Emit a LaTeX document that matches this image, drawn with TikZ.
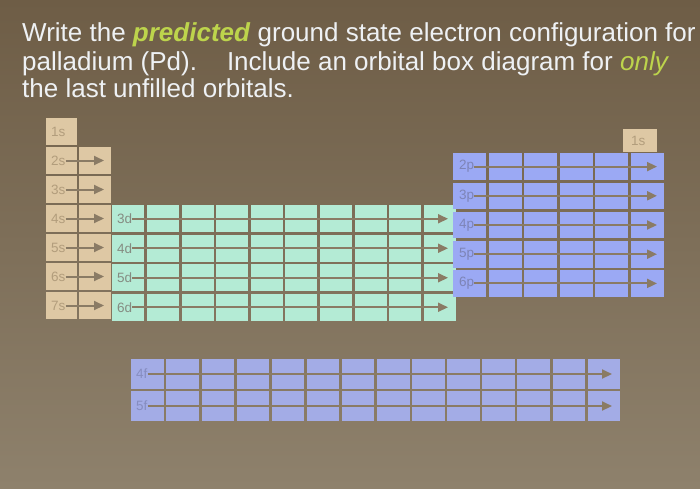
\documentclass[tikz,border=0pt]{standalone}
\usepackage{fontspec}
\setmainfont{Liberation Sans}
\usetikzlibrary{arrows.meta}
\definecolor{bgtop}{HTML}{6E5D46}
\definecolor{bgbot}{HTML}{8E816C}
\definecolor{sblk}{HTML}{DEC8A4}
\definecolor{dblk}{HTML}{B4EBD5}
\definecolor{pblk}{HTML}{9BA9F4}
\definecolor{fblk}{HTML}{A3ACE6}
\definecolor{gline}{HTML}{8A7B65}
\definecolor{slbl}{HTML}{B29D7C}
\definecolor{dlbl}{HTML}{858C82}
\definecolor{plbl}{HTML}{7D84B6}
\definecolor{flbl}{HTML}{868DC0}
\definecolor{txt}{HTML}{EEF1F4}
\definecolor{hl}{HTML}{BDD44C}
\begin{document}
\begin{tikzpicture}[x=1pt,y=-1pt,
  titletext/.style={anchor=base west, inner sep=0pt, text=txt, font=\fontsize{26}{28}\selectfont},
  lbl/.style={anchor=west, inner sep=0pt, font=\fontsize{13.5}{14}\selectfont},
  arr/.style={draw=gline, line width=2pt, -{Triangle[length=10pt,width=9pt]}},
]
\shade[top color=bgtop,bottom color=bgbot] (0,0) rectangle (700,488);
\useasboundingbox (0,0) rectangle (700,488);

% title
\node[titletext] (t1) at (22,41) {Write the \textcolor{hl}{\textbf{\textit{predicted}}} ground state electron configuration for};
\node[titletext] (t2) at (22,70) {palladium (Pd).\hspace{30pt}Include an orbital box diagram for \textcolor{hl}{\textit{only}}};
\node[titletext] (t3) at (22,97) {the last unfilled orbitals.};

% s block
\foreach \n in {1,...,7}{
  \pgfmathsetmacro\yt{117+29*(\n-1)}
  \fill[sblk] (46,{\yt+1.3}) rectangle (76.7,{\yt+27.7});
  \node[lbl, text=slbl] (s\n) at (51,{\yt+14.5}) {\n s};
}
\foreach \n in {2,...,7}{
  \pgfmathsetmacro\yt{117+29*(\n-1)}
  \fill[sblk] (79.3,{\yt+1.3}) rectangle (111,{\yt+27.7});
  \coordinate (se\n) at (104,{\yt+14.5});
  \draw[arr] (s\n.east) -- (se\n);
}

% d block
\foreach \n [count=\i from 0] in {3,...,6}{
  \pgfmathsetmacro\yt{204+29.5*\i}
  \foreach \j in {0,...,9}{
    \pgfmathsetmacro\xl{111+34.6*\j}
    \fill[dblk] ({\xl+1.3},{\yt+1.3}) rectangle ({\xl+33.3},{\yt+28.2});
  }
  \node[lbl, text=dlbl] (d\n) at (117,{\yt+14.75}) {\n d};
  \coordinate (de\n) at (448,{\yt+14.75});
  \draw[arr] (d\n.east) -- (de\n);
}

% 1s (right)
\fill[sblk] (623,129) rectangle (657,152);
\node[lbl, text=slbl] (s1r) at (631,141) {1s};

% p block
\foreach \n [count=\i from 0] in {2,...,6}{
  \pgfmathsetmacro\yt{152+29.2*\i}
  \foreach \j in {0,...,5}{
    \pgfmathsetmacro\xl{452+35.5*\j}
    \fill[pblk] ({\xl+1.3},{\yt+1.3}) rectangle ({\xl+34.2},{\yt+27.9});
  }
  \node[lbl, text=plbl] (p\n) at (459,{\yt+14.6}) {\n p};
  \coordinate (pe\n) at (657,{\yt+14.6});
  \draw[arr] (p\n.east) -- (pe\n);
}

% f block
\foreach \n [count=\i from 0] in {4,5}{
  \pgfmathsetmacro\yt{358+32*\i}
  \foreach \j in {0,...,13}{
    \pgfmathsetmacro\xl{130+35.1*\j}
    \fill[fblk] ({\xl+1.3},{\yt+1.3}) rectangle ({\xl+33.8},{\yt+30.7});
  }
  \node[lbl, text=flbl] (f\n) at (136,{\yt+16}) {\n f};
  \coordinate (fe\n) at (612,{\yt+16});
  \draw[arr] (f\n.east) -- (fe\n);
}
\end{tikzpicture}
\end{document}
